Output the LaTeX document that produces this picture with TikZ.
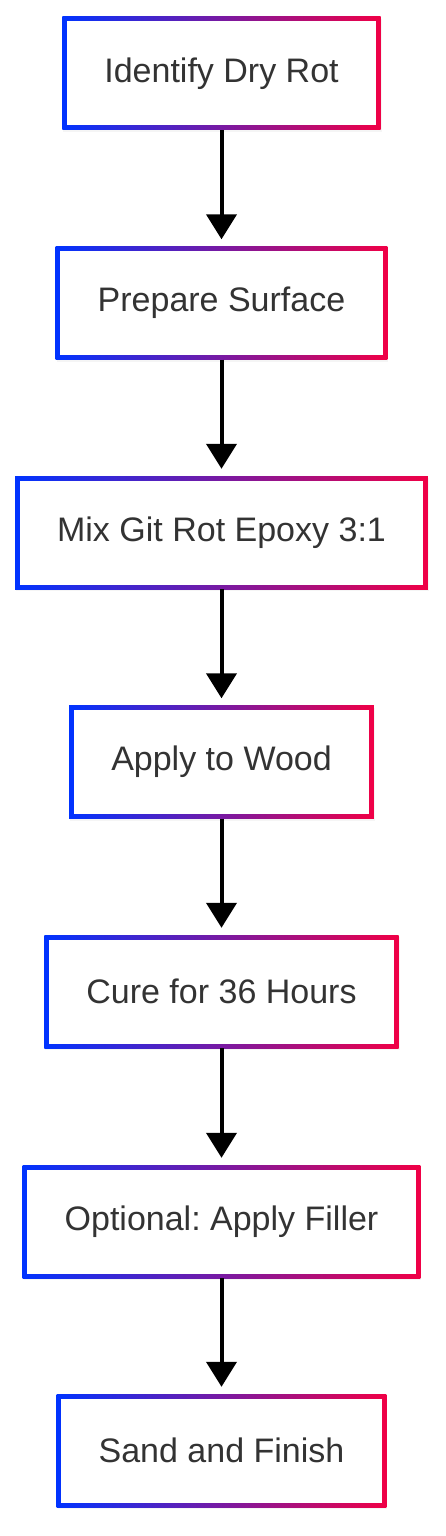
\documentclass[tikz,border=0pt]{standalone}
\usepackage{fontspec}
\setmainfont{Liberation Sans}
\usetikzlibrary{arrows.meta,shadows}
\definecolor{edgeblue}{RGB}{0,51,255}
\definecolor{edgered}{RGB}{240,0,70}
\definecolor{labelgray}{RGB}{51,51,51}
\frenchspacing
\tikzset{
  stepbox/.style={rectangle, inner xsep=42pt, minimum height=113pt,
    left color=edgeblue, right color=edgered,
    drop shadow={opacity=0.08, shadow xshift=1pt, shadow yshift=-2pt},
    path picture={\fill[white] ([shift={(4.5pt,-4.5pt)}]path picture bounding box.north west)
      rectangle ([shift={(-4.5pt,4.5pt)}]path picture bounding box.south east);},
    text=labelgray, font=\fontsize{34}{40}\selectfont},
  flow/.style={-{Triangle[width=30pt,length=25pt]}, line width=4pt, shorten >=7pt}
}
\begin{document}
\begin{tikzpicture}[x=1pt,y=-1pt]
\useasboundingbox (0,0) rectangle (446,1536);
\node[stepbox] (identify) at (221.5,73.5) {Identify Dry Rot};
\node[stepbox] (prepare) at (221.5,303) {Prepare Surface};
\node[stepbox] (mix) at (221.5,532.5) {Mix Git Rot Epoxy 3:1};
\node[stepbox] (apply) at (221.5,762) {Apply to Wood};
\node[stepbox] (cure) at (221.5,991.5) {Cure for 36 Hours};
\node[stepbox] (filler) at (221.5,1221.5) {Optional: Apply Filler};
\node[stepbox] (sand) at (221.5,1450.5) {Sand and Finish};

\draw[flow] (identify)--(prepare);
\draw[flow] (prepare)--(mix);
\draw[flow] (mix)--(apply);
\draw[flow] (apply)--(cure);
\draw[flow] (cure)--(filler);
\draw[flow] (filler)--(sand);
\end{tikzpicture}
\end{document}
